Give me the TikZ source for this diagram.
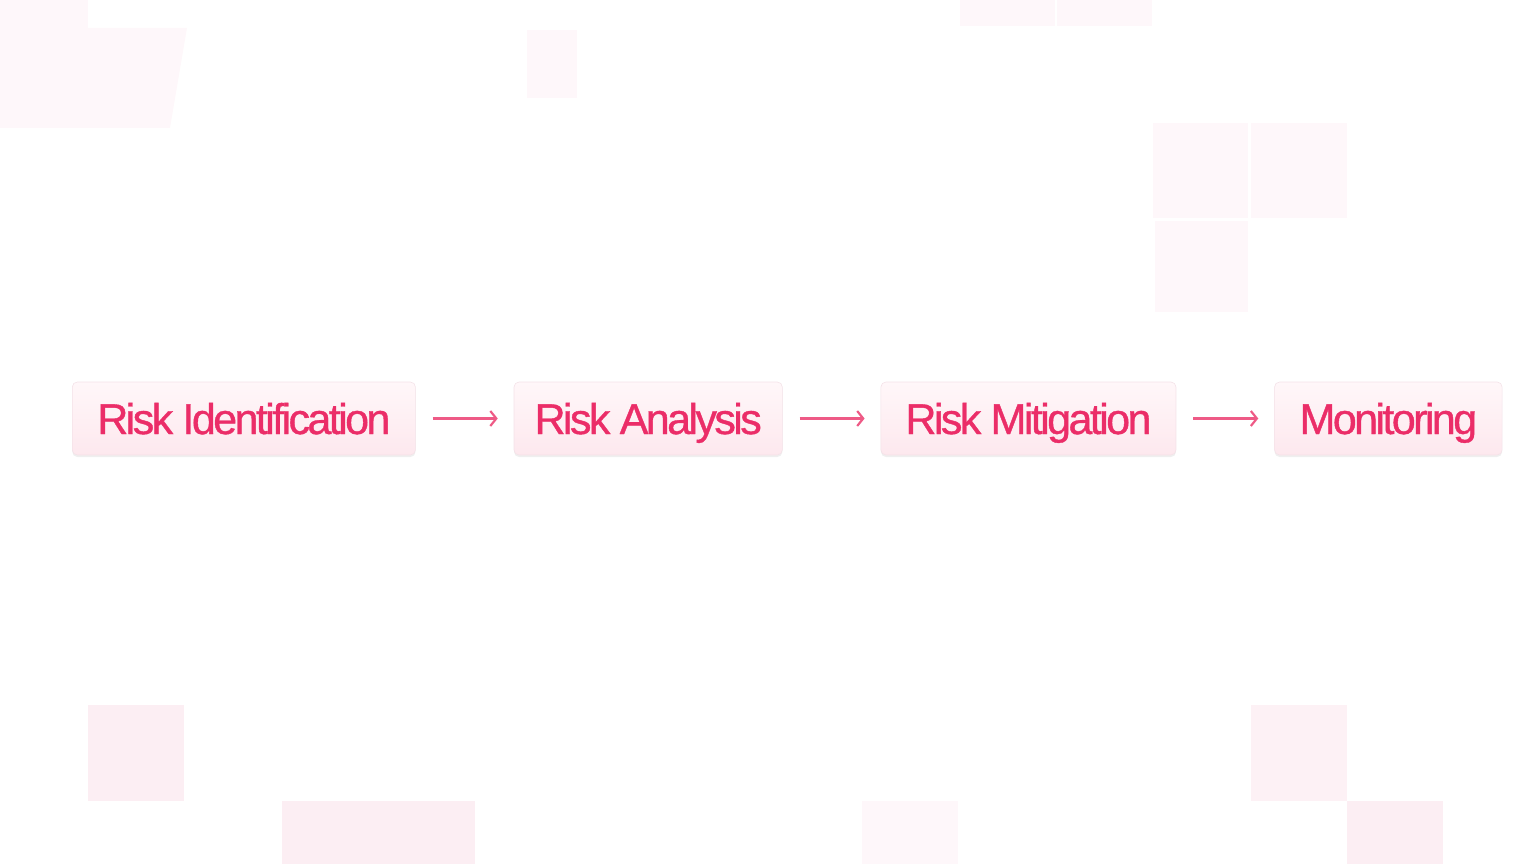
\documentclass[tikz,border=0pt]{standalone}
\usepackage{fontspec}
\usepackage{tikz}
\usetikzlibrary{positioning}
\usetikzlibrary{arrows.meta}
\usetikzlibrary{shadows}
\newfontfamily\stepfont[LetterSpace=-6,FakeBold=0.9]{Liberation Sans}
\definecolor{riskred}{HTML}{EB2D68}
\definecolor{arrowpink}{HTML}{EE5A86}
\definecolor{tilepink}{HTML}{FCEEF3}
\definecolor{boxtop}{HTML}{FFF7F9}
\definecolor{boxbottom}{HTML}{FDE8EE}
\definecolor{boxline}{HTML}{F4E2E8}
\tikzset{
   tile/.style={fill=tilepink, draw=none},
   faint tile/.style={fill=tilepink, fill opacity=0.45, draw=none},
   stage/.style={rounded corners=5pt, draw=boxline, line width=0.6pt,
      top color=boxtop, bottom color=boxbottom,
      drop shadow={shadow xshift=0pt, shadow yshift=-2pt, opacity=0.10, fill=black!60},
      minimum height=73pt, inner xsep=#1, inner ysep=0pt,
      text height=31pt, text depth=0pt,
      font=\stepfont\fontsize{43}{43}\selectfont, text=riskred},
   stage/.default=25pt,
   flow/.style={draw=arrowpink, line width=2.4pt, shorten <=17pt, shorten >=16pt,
      -{Straight Barb[length=6pt,width=15pt,line width=2.2pt]}},
    }

\begin{document}
\begin{tikzpicture}[x=1pt,y=-1pt]
       \useasboundingbox (0,0) rectangle (1536,864);
       % background tiles
       \fill[faint tile](0,0)rectangle(88,128);
       \fill[faint tile](88,28)--(187,28)--(170,128)--(88,128)--cycle;
       \fill[faint tile](527,30)rectangle(577,98);
       \fill[faint tile](960,0)rectangle(1055,26);
       \fill[faint tile](1057,0)rectangle(1152,26);
       \fill[faint tile](1153,123)rectangle(1248,218);
       \fill[faint tile](1251,123)rectangle(1347,218);
       \fill[faint tile](1155,221)rectangle(1248,312);
       \fill[tile](88,705)rectangle(184,801);
       \fill[tile](282,801)rectangle(475,864);
       \fill[faint tile](862,801)rectangle(958,864);
       \fill[tile, fill opacity=0.8](1251,705)rectangle(1347,801);
       \fill[tile](1347,801)rectangle(1443,864);
       % stages
       \node[stage, anchor=west] (ident) at (72,418.5) {Risk Identification};
       \node[stage=20.5pt, right=98pt of ident] (anal) {Risk Analysis};
       \node[stage=24.5pt, right=98pt of anal] (mitig) {Risk Mitigation};
       \node[stage, right=98pt of mitig] (monit) {Monitoring};
       \draw[flow](ident)to(anal);
       \draw[flow](anal)to(mitig);
       \draw[flow](mitig)to(monit);
   \end{tikzpicture}
\end{document}
